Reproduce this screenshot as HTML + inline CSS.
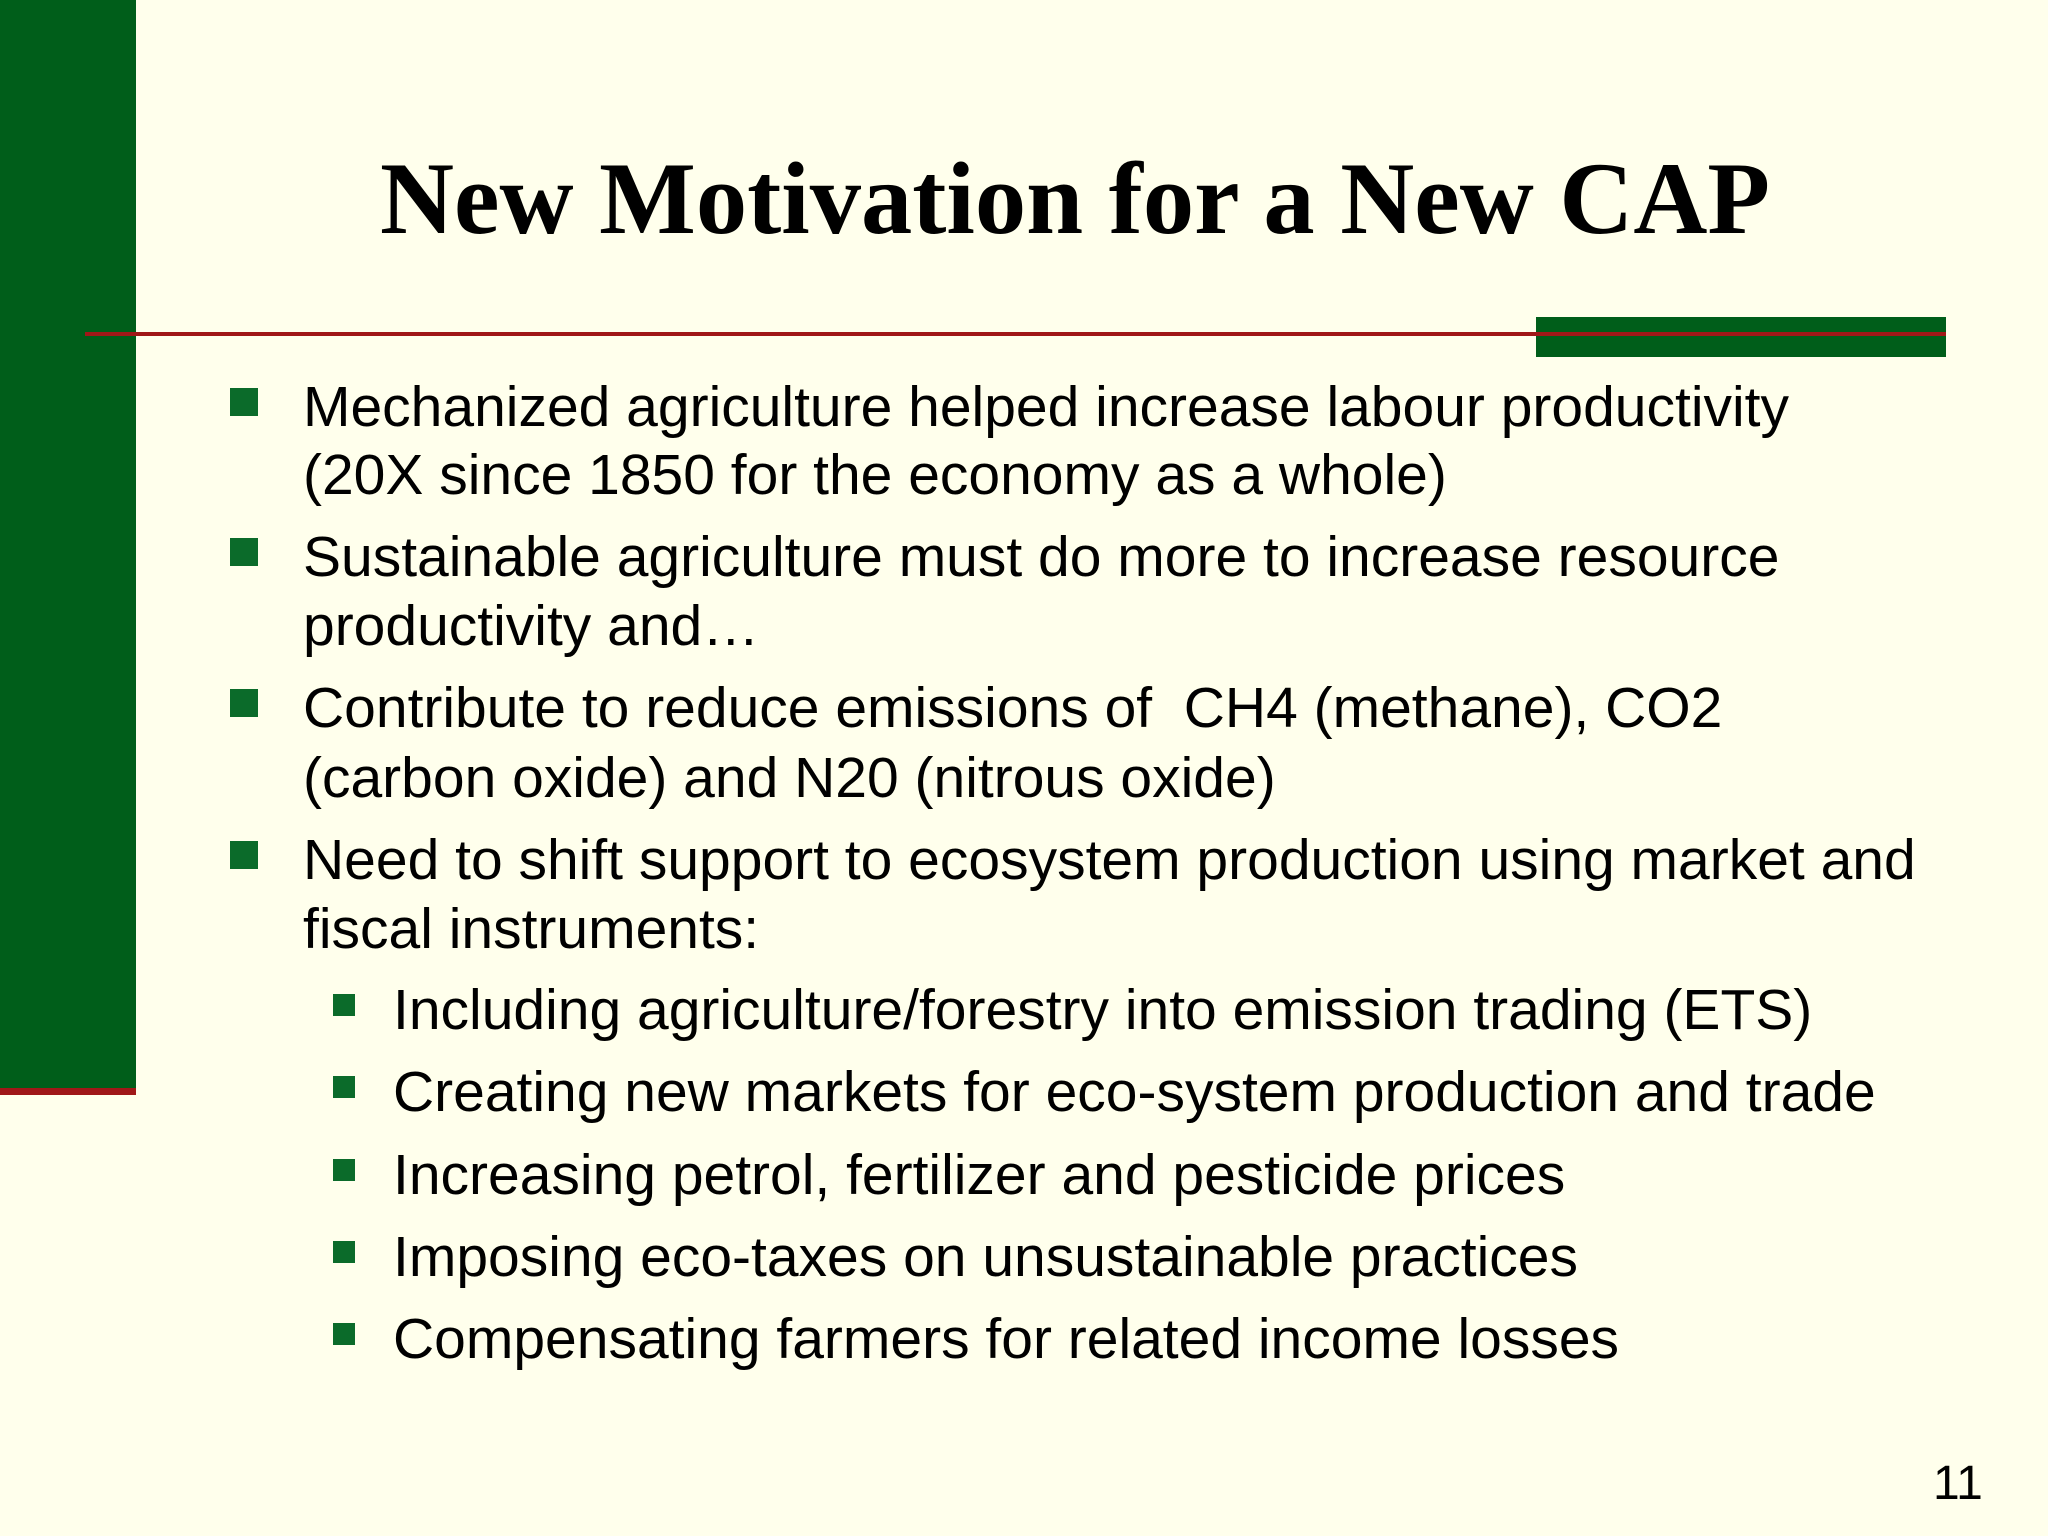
<!DOCTYPE html>
<html><head><meta charset="utf-8"><style>
body{margin:0;width:2048px;height:1536px;background:#FFFFEC;position:relative;overflow:hidden;font-family:"Liberation Sans",Arial,sans-serif;color:#000}
.a{position:absolute;white-space:nowrap;line-height:1}
.t{font-size:57px}
.b{position:absolute;background:#0B6B2A}
</style></head><body>
<div style="position:absolute;left:0;top:0;width:136px;height:1089px;background:#005E1A"></div>
<div style="position:absolute;left:0;top:1088px;width:136px;height:7px;background:#A01818"></div>
<div class="a" style="left:0;width:2150px;text-align:center;top:149px;font-family:'Liberation Serif',serif;font-weight:bold;font-size:102.5px">New Motivation for a New CAP</div>
<div style="position:absolute;left:1536px;top:317px;width:410px;height:40px;background:#005E1A"></div>
<div style="position:absolute;left:85px;top:332px;width:1861px;height:4px;background:#A01818"></div>

<div class="b" style="left:230px;top:388px;width:28px;height:28px"></div>
<div class="a t" style="left:303px;top:379px">Mechanized agriculture helped increase labour productivity</div>
<div class="a t" style="left:303px;top:447px">(20X since 1850 for the economy as a whole)</div>

<div class="b" style="left:230px;top:538px;width:28px;height:28px"></div>
<div class="a t" style="left:303px;top:529px">Sustainable agriculture must do more to increase resource</div>
<div class="a t" style="left:303px;top:598px">productivity and…</div>

<div class="b" style="left:230px;top:689px;width:28px;height:28px"></div>
<div class="a t" style="left:303px;top:680px">Contribute to reduce emissions of&nbsp; CH4 (methane), CO2</div>
<div class="a t" style="left:303px;top:750px">(carbon oxide) and N20 (nitrous oxide)</div>

<div class="b" style="left:230px;top:841px;width:28px;height:28px"></div>
<div class="a t" style="left:303px;top:832px">Need to shift support to ecosystem production using market and</div>
<div class="a t" style="left:303px;top:901px">fiscal instruments:</div>

<div class="b" style="left:333px;top:994px;width:22px;height:22px"></div>
<div class="a t" style="left:393px;top:982px">Including agriculture/forestry into emission trading (ETS)</div>
<div class="b" style="left:333px;top:1076px;width:22px;height:22px"></div>
<div class="a t" style="left:393px;top:1064px">Creating new markets for eco-system production and trade</div>
<div class="b" style="left:333px;top:1159px;width:22px;height:22px"></div>
<div class="a t" style="left:393px;top:1147px">Increasing petrol, fertilizer and pesticide prices</div>
<div class="b" style="left:333px;top:1241px;width:22px;height:22px"></div>
<div class="a t" style="left:393px;top:1229px">Imposing eco-taxes on unsustainable practices</div>
<div class="b" style="left:333px;top:1323px;width:22px;height:22px"></div>
<div class="a t" style="left:393px;top:1311px">Compensating farmers for related income losses</div>

<div class="a" style="left:1933px;top:1460px;font-size:48px">11</div>
</body></html>
